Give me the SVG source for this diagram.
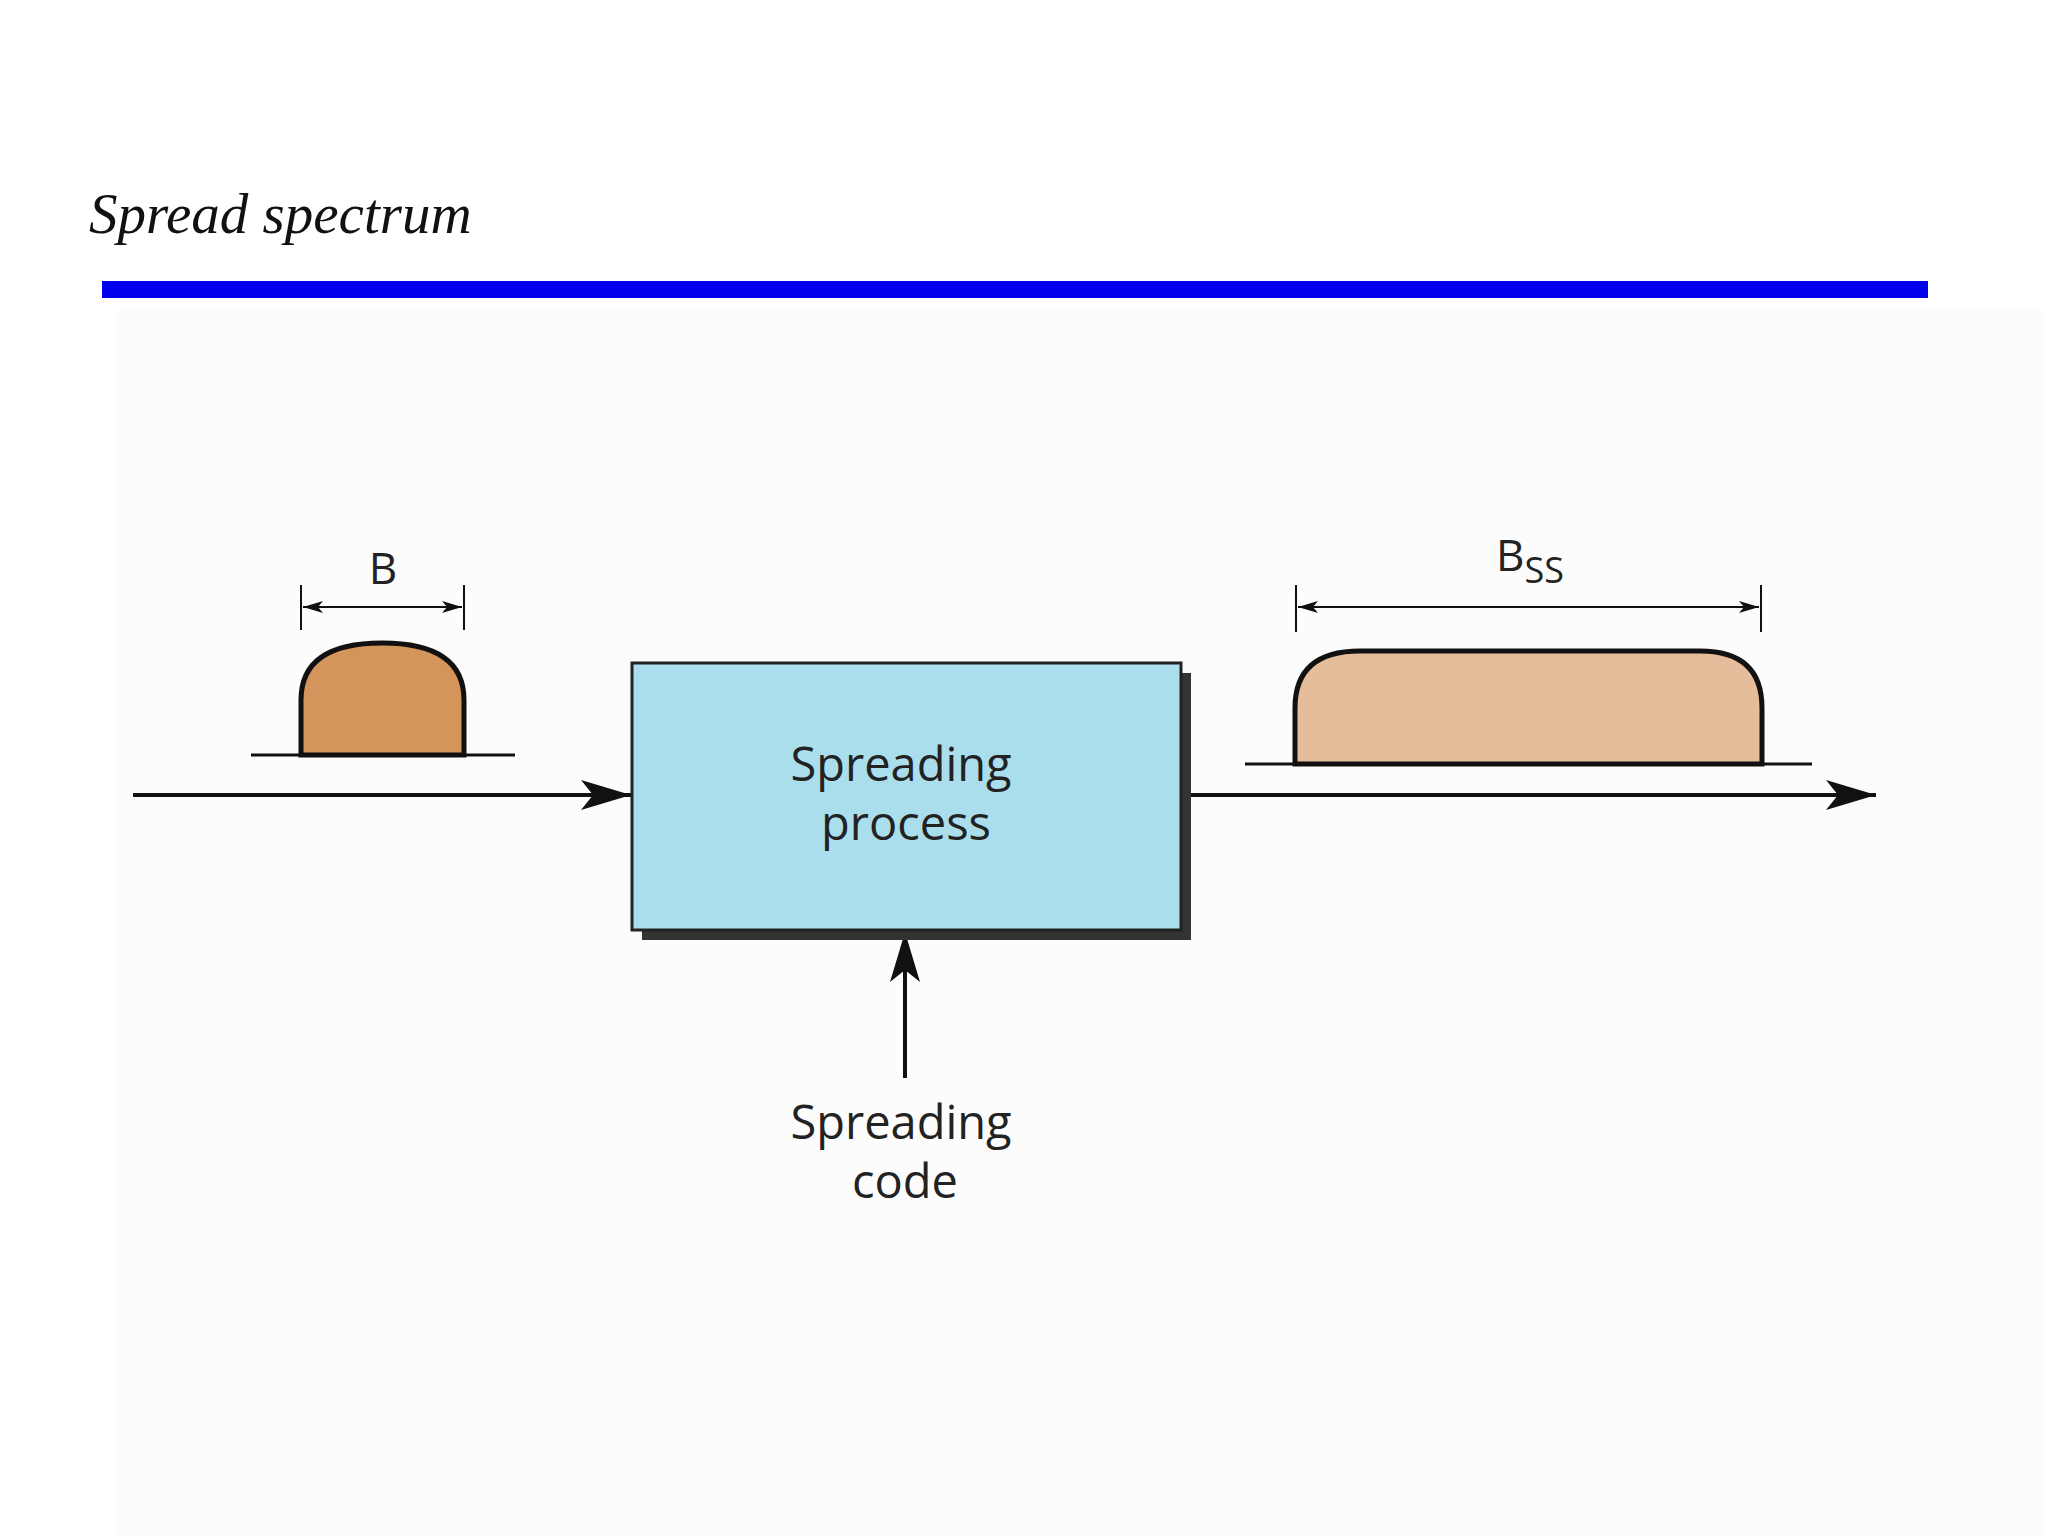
<svg xmlns="http://www.w3.org/2000/svg" width="2048" height="1536" viewBox="0 0 2048 1536">
<defs>
<style>
.t{font-family:"Open Sans","Noto Sans",sans-serif;font-size:47px;fill:#222;text-anchor:middle}
.ln{stroke:#111;stroke-width:4;fill:none}
.dim{stroke:#111;stroke-width:2;fill:none}
</style>
<marker id="ah" viewBox="0 0 20 12" refX="20" refY="6" markerWidth="20" markerHeight="12" markerUnits="userSpaceOnUse" orient="auto"><path d="M0,0 L20,6 L0,12 L5,6 Z" fill="#111"/></marker>
<marker id="big" viewBox="0 0 50 30" refX="50" refY="15" markerWidth="50" markerHeight="30" markerUnits="userSpaceOnUse" orient="auto"><path d="M0,0 L50,15 L0,30 L12,15 Z" fill="#111"/></marker>
</defs>
<rect width="2048" height="1536" fill="#fff"/>
<rect x="115" y="310" width="1930" height="1226" fill="#fcfcfc"/>
<text x="89" y="233" font-family="'Liberation Serif',serif" font-style="italic" font-size="57" fill="#111">Spread spectrum</text>
<rect x="102" y="281" width="1826" height="17" fill="#0000ee"/>
<g id="connectors">
<line class="ln" x1="133" y1="795" x2="631" y2="795" marker-end="url(#big)"/>
<line class="ln" x1="1181" y1="795" x2="1876" y2="795" marker-end="url(#big)"/>
<line class="ln" x1="905" y1="1078" x2="905" y2="932" marker-end="url(#big)"/>
</g>
<g id="process">
<rect x="642" y="673" width="549" height="267" fill="#333"/>
<rect x="632" y="663" width="549" height="267" fill="#aadeed" stroke="#222" stroke-width="3"/>
<text class="t" x="901" y="781">Spreading</text>
<text class="t" x="906" y="840">process</text>
</g>
<g id="code">
<text class="t" x="901" y="1139">Spreading</text>
<text class="t" x="905" y="1198">code</text>
</g>
<g id="narrow">
<line x1="251" y1="755" x2="515" y2="755" stroke="#111" stroke-width="3"/>
<path d="M301,755 L301,700 Q301,643 382,643 Q464,643 464,700 L464,755 Z" fill="#d4955a" stroke="#111" stroke-width="5"/>
<line class="dim" x1="301" y1="585" x2="301" y2="630"/>
<line class="dim" x1="464" y1="585" x2="464" y2="630"/>
<line class="dim" x1="382" y1="607" x2="303" y2="607" marker-end="url(#ah)"/>
<line class="dim" x1="382" y1="607" x2="462" y2="607" marker-end="url(#ah)"/>
<text class="t" x="383" y="584" style="font-size:44px">B</text>
</g>
<g id="wide">
<line x1="1245" y1="764" x2="1812" y2="764" stroke="#111" stroke-width="3"/>
<path d="M1295,764 L1295,708 Q1295,651 1360,651 L1700,651 Q1762,651 1762,708 L1762,764 Z" fill="#e5bd9a" stroke="#111" stroke-width="5"/>
<line class="dim" x1="1296" y1="585" x2="1296" y2="632"/>
<line class="dim" x1="1761" y1="585" x2="1761" y2="632"/>
<line class="dim" x1="1528" y1="607" x2="1298" y2="607" marker-end="url(#ah)"/>
<line class="dim" x1="1528" y1="607" x2="1759" y2="607" marker-end="url(#ah)"/>
<text x="1496" y="571" font-family="'Open Sans','Noto Sans',sans-serif" font-size="44" fill="#222">B<tspan font-size="36" dy="12">SS</tspan></text>
</g>
</svg>
